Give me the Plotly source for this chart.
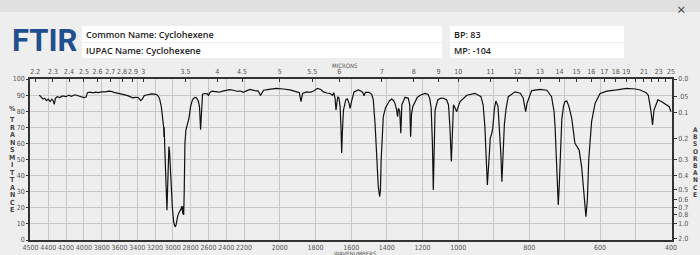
import numpy as np
import plotly.graph_objects as go

# ---------------- data ----------------
wavenumber = [4500, 4480, 4460, 4440, 4420, 4400, 4380, 4360, 4345, 4333, 4320, 4300, 4270, 4240, 4200,
              4170, 4140, 4100, 4060, 4030, 4000, 3975, 3960, 3930, 3900, 3870, 3840, 3800, 3760, 3720,
              3690, 3650, 3600, 3550, 3500, 3450, 3420, 3390, 3360, 3340, 3320, 3280, 3240, 3200, 3180,
              3160, 3148, 3130, 3120, 3108, 3103, 3100, 3097, 3090, 3080, 3070, 3066, 3060, 3050, 3044,
              3037, 3033, 3030, 3020, 3005, 2990, 2975, 2965, 2955, 2945, 2925, 2910, 2900, 2893, 2887,
              2883, 2878, 2872, 2864, 2853, 2835, 2819, 2800, 2780, 2760, 2740, 2725, 2712, 2700, 2692,
              2688, 2683, 2675, 2666, 2640, 2610, 2600, 2585, 2560, 2520, 2480, 2440, 2400, 2360, 2320,
              2280, 2240, 2208, 2190, 2166, 2140, 2120, 2108, 2100, 2090, 2060, 2017, 1980, 1942, 1905,
              1890, 1881, 1872, 1850, 1830, 1810, 1789, 1770, 1755, 1735, 1718, 1704, 1697, 1690, 1685,
              1680, 1675, 1668, 1662, 1657, 1653, 1648, 1643, 1630, 1621, 1612, 1606, 1598, 1584, 1560,
              1540, 1532, 1528, 1520, 1500, 1485, 1476, 1466, 1457, 1448, 1443, 1440, 1436, 1432, 1420,
              1408, 1398, 1385, 1373, 1362, 1355, 1345, 1340, 1335, 1328, 1322, 1316, 1298, 1280, 1272,
              1267, 1262, 1255, 1245, 1230, 1214, 1186, 1170, 1160, 1152, 1145, 1140, 1135, 1130, 1115,
              1100, 1084, 1065, 1055, 1047, 1039, 1033, 1027, 1018, 1009, 1000, 995, 976, 953, 936,
              930, 925, 918, 912, 910, 906, 903, 898, 894, 888, 884, 880, 877, 873, 870,
              865, 859, 840, 825, 817, 812, 810, 806, 800, 793, 769, 750, 737, 730, 727,
              721, 718, 715, 713, 708, 703, 699, 694, 688, 680, 671, 665, 659, 652, 645,
              640, 636, 632, 624, 614, 600, 581, 553, 525, 500, 487, 470, 464, 457, 452,
              448, 437, 427, 415, 405, 394]
transmittance = [90, 89, 87.5, 88, 86.5, 87.5, 86, 87.5, 86.5, 84.3, 88, 89, 88.5, 89.5, 89,
                 90, 89.3, 90.2, 89.5, 88.8, 88.4, 88.8, 91.5, 91.8, 91.4, 91.8, 91.5, 92, 92, 92.5,
                 92.3, 91.5, 91, 90.3, 89.5, 88.3, 88.6, 88.5, 86.6, 87.8, 89.8, 90.3, 90.7, 90.6, 90.2,
                 89, 87.5, 83, 79, 72, 70, 64, 70, 56, 40, 24, 18.5, 30, 52, 58,
                 55, 50, 48, 35, 20, 11, 8.2, 9, 13, 15, 17.7, 19, 21, 19, 16,
                 21, 15.5, 30, 60, 68.3, 72, 75.6, 83, 87, 88.3, 88.6, 87.5, 86, 82.5, 74,
                 68.5, 74, 85, 90.5, 91, 90.8, 89.6, 91.5, 92.5, 92.2, 91.8, 92.5, 92.8, 93.4, 93,
                 92.4, 92.5, 91.7, 92.5, 93.5, 92.8, 92.5, 89.8, 91, 93, 93.6, 94.2, 93.8, 93.2, 92,
                 91.5, 86, 91, 92, 91.7, 92.5, 94.2, 93.5, 92, 91.3, 91, 89.9, 91.5, 88, 80.7,
                 85, 89, 88, 83, 70, 54, 70, 80.7, 87, 87.6, 85, 81.8, 85.9, 92, 93.2,
                 92.2, 91, 89.6, 91.7, 91.7, 90.5, 87, 72, 49.7, 33, 29, 27, 31, 49.7, 76.6,
                 82, 84, 86.5, 87.6, 86.5, 85, 80.7, 76.6, 81.8, 80, 66.3, 84, 88.6, 88, 84,
                 64.2, 78, 82.8, 85, 88.5, 89.9, 91, 90.5, 88, 82, 60, 31, 60, 80.7, 87,
                 88, 88.2, 87, 84, 70.4, 48.7, 70.4, 84, 82, 79.7, 83, 86, 89.9, 91.1, 89,
                 84, 70.4, 34.2, 55, 63, 66, 69, 81.7, 86.3, 83, 70, 53.8, 36.2, 55, 72,
                 82, 89, 92, 91.2, 88.2, 83, 79.7, 85, 88.5, 92.8, 93.6, 93, 89, 80, 70.4,
                 39.3, 21.7, 35, 50, 75, 83.5, 86, 86.3, 83, 75.6, 60, 58, 55.7, 45.3, 24.8,
                 14.5, 24.8, 50, 73.5, 85, 91, 92.5, 93.2, 94.2, 93.8, 93.2, 91.5, 89.9, 80.7, 71.4,
                 80.7, 87, 86, 84.5, 82.8, 79.7]

wn_tick_values = [4600, 4400, 4200, 4000, 3800, 3600, 3400, 3200, 3000, 2800, 2600, 2400, 2200,
                  2000, 1800, 1600, 1400, 1200, 1000, 900, 800, 700, 600, 500, 400]
wn_tick_labels = ["4500", "4400", "4200", "4000", "3800", "3600", "3400", "3200", "3000", "2800",
                  "2600", "2400", "2200", "2000", "1800", "1600", "1400", "1200", "1000", "",
                  "800", "", "600", "", "400"]
micron_values = [2.2, 2.3, 2.4, 2.5, 2.6, 2.7, 2.8, 2.9, 3, 3.5, 4, 4.5, 5, 5.5, 6, 7, 8, 9, 10,
                 11, 12, 13, 14, 15, 16, 17, 18, 19, 20, 21, 22, 23, 24, 25]
micron_labels = ["2.2", "2.3", "2.4", "2.5", "2.6", "2.7", "2.8", "2.9", "3", "3.5", "4", "4.5",
                 "5", "5.5", "6", "7", "8", "9", "10", "11", "12", "13", "14", "15", "16", "17",
                 "18", "19", "", "21", "", "23", "", "25"]
absorb_values = [0.0, 0.05, 0.1, 0.2, 0.3, 0.4, 0.5, 0.6, 0.7, 0.8, 1.0, 2.0]
absorb_labels = ["0.0", ".05", "0.1", "0.2", "0.3", "0.4", "0.5", "0.6", "0.7", "0.8", "1.0", "2.0"]
t_ticks = list(range(0, 101, 10))

# ------------- piecewise wavenumber scale (scale changes at 2200 and 1000) -------------
KNOT_WN = [400, 1000, 2200, 4600]
KNOT_U = [671.0, 458.3, 244.0, 30.5]


def u(wn):
    return np.interp(np.asarray(wn, dtype=float), KNOT_WN, KNOT_U)


W, H = 700, 255
L, R, T, B = 30, 28, 79, 15
PW, PH = W - L - R, H - T - B


def px(x):
    return (x - L) / PW


def py(y):
    return (H - B - y) / PH


FONT = "Open Sans, Liberation Sans, sans-serif"
NARROW = "Liberation Sans Narrow, DejaVu Sans Condensed, Roboto, sans-serif"
BG = "#eeeeee"

fig = go.Figure()
fig.add_trace(go.Scatter(x=u(wavenumber), y=transmittance, mode="lines",
                         line=dict(color="#111111", width=1.2), hoverinfo="skip",
                         showlegend=False))
fig.add_trace(go.Scatter(x=[u(1000)], y=[50], xaxis="x2", yaxis="y2", mode="markers",
                         marker=dict(opacity=0), showlegend=False, hoverinfo="skip"))

axis_common = dict(showline=True, linecolor="#333333", linewidth=1.5, zeroline=False,
                   automargin=False)

fig.update_layout(
    width=W, height=H,
    margin=dict(l=L, r=R, t=T, b=B, pad=0, autoexpand=False),
    paper_bgcolor=BG, plot_bgcolor=BG,
    xaxis=dict(range=[30, 672], tickvals=list(u(wn_tick_values)), ticktext=wn_tick_labels,
               showgrid=True, gridcolor="#c8c8c8", gridwidth=1, ticks="", ticklen=0,
               tickfont=dict(family=NARROW, size=7, color="#555555"), tickangle=0,
               **axis_common),
    xaxis2=dict(range=[30, 672], overlaying="x", side="top", anchor="y",
                tickvals=list(u(10000 / np.array(micron_values))), ticktext=micron_labels,
                showgrid=False, ticks="inside", ticklen=3, tickcolor="#333333",
                tickfont=dict(family=NARROW, size=7, color="#555555"), tickangle=0,
                **axis_common),
    yaxis=dict(range=[0, 100], tickvals=t_ticks, ticktext=[str(v) for v in t_ticks],
               showgrid=True, gridcolor="#c8c8c8", gridwidth=1, ticks="outside", ticklen=2,
               tickcolor="#333333", tickfont=dict(family=NARROW, size=7, color="#555555"),
               **axis_common),
    yaxis2=dict(range=[0, 100], overlaying="y", side="right", anchor="x",
                tickvals=[100 * 10 ** (-a) for a in absorb_values], ticktext=absorb_labels,
                showgrid=False, ticks="outside", ticklen=3, tickcolor="#333333",
                tickfont=dict(family=NARROW, size=7, color="#555555"),
                **axis_common),
)

shapes = [
    dict(type="rect", xref="paper", yref="paper", x0=px(0), x1=px(W), y0=py(0), y1=py(12),
         fillcolor="#e0e0e0", line=dict(width=0), layer="below"),
]
for (x0, x1, y0, y1) in [(82, 442, 26, 42), (82, 442, 43, 58), (450, 624, 26, 42), (450, 624, 43, 58)]:
    shapes.append(dict(type="rect", xref="paper", yref="paper", x0=px(x0), x1=px(x1),
                       y0=py(y0), y1=py(y1), fillcolor="#ffffff", line=dict(width=0)))
fig.update_layout(shapes=shapes)

ann = []


def text(x, y, s, size, color="#333333", family=FONT, xanchor="left", weight=None):
    f = dict(family=family, size=size, color=color)
    if weight:
        f["weight"] = weight
    ann.append(dict(x=px(x), y=py(y), xref="paper", yref="paper", text=s, showarrow=False,
                    xanchor=xanchor, yanchor="middle", font=f))


text(10, 40.5, "FTIR", 31, color="#1f4f8f", family="Liberation Sans Narrow, Roboto, sans-serif",
     weight=700)
text(84, 34, "Common Name: Cyclohexene", 9, color="#222222", weight=600)
text(84, 50.5, "IUPAC Name: Cyclohexene", 9, color="#222222", weight=600)
text(452, 34, "BP: 83", 9, color="#222222", weight=600)
text(452, 50.5, "MP: -104", 9, color="#222222", weight=600)
text(682, 9, "×", 15, color="#444444", xanchor="center")
text(345, 65, "MICRONS", 6, color="#555555", family=NARROW, xanchor="center")
text(355, 253.5, "WAVENUMBERS", 6, color="#555555", family=NARROW, xanchor="center")

text(12, 109, "%", 7, color="#444444", family=NARROW, xanchor="center", weight=700)
for i, ch in enumerate("TRANSMITTANCE"):
    text(12, 120 + i * 7.5, ch, 7, color="#444444", family=NARROW, xanchor="center", weight=700)
for i, ch in enumerate("ABSORBANCE"):
    text(695, 130 + i * 7.2, ch, 6.5, color="#444444", family=NARROW, xanchor="center", weight=700)

fig.update_layout(annotations=ann)
fig.write_html("out.html")
